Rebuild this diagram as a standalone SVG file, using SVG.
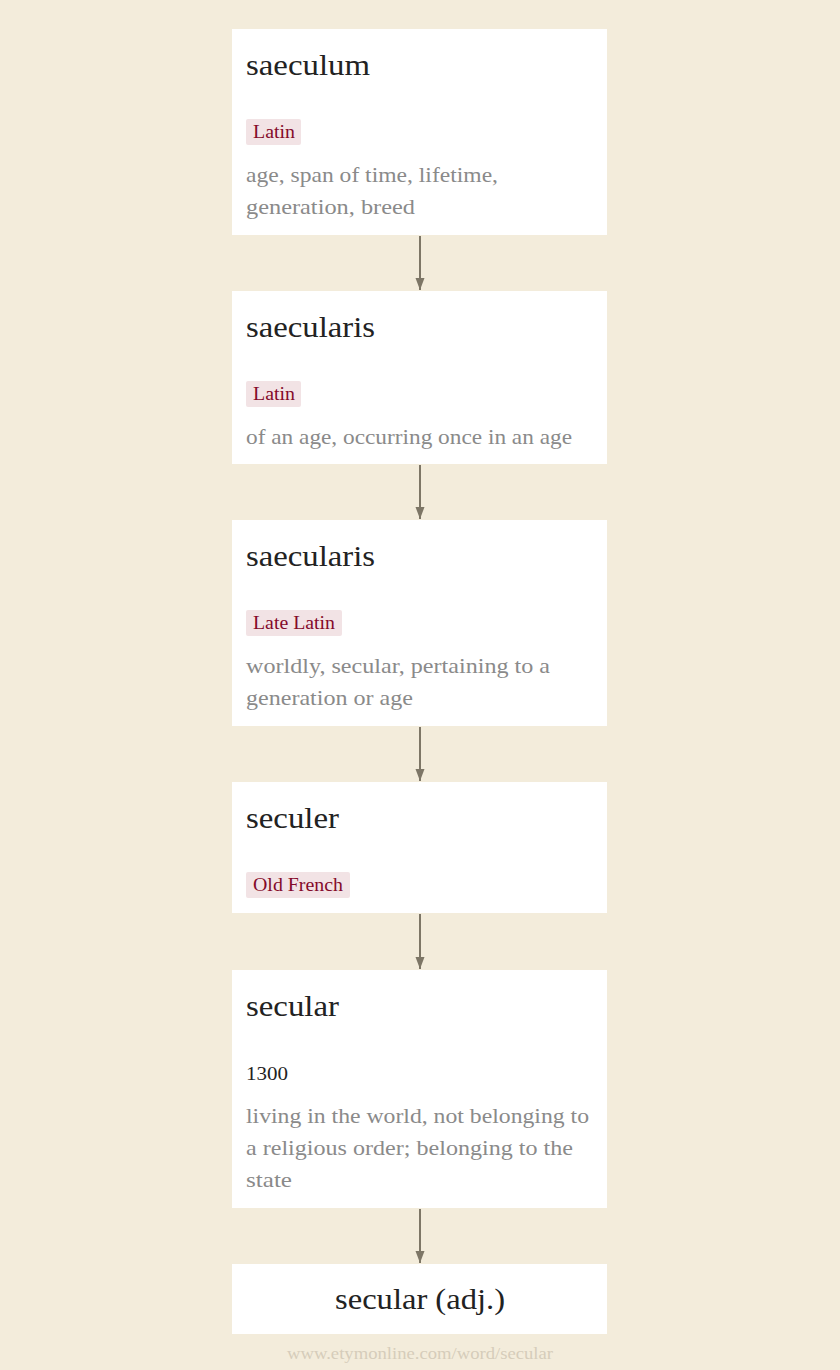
<svg xmlns="http://www.w3.org/2000/svg" width="840" height="1370" viewBox="0 0 840 1370">
<style>
.box{fill:#ffffff}
.title{font-family:"Liberation Serif","DejaVu Serif",serif;font-size:30px;fill:#222222}
.tagbg{fill:#f2e3e5}
.tag{font-family:"Liberation Serif","DejaVu Serif",serif;font-size:18px;fill:#840a2a}
.year{font-family:"Liberation Serif","DejaVu Serif",serif;font-size:18px;fill:#222222}
.desc{font-family:"Liberation Serif","DejaVu Serif",serif;font-size:21px;fill:#8a8a8a}
.foot{font-family:"Liberation Serif","DejaVu Serif",serif;font-size:16px;fill:#d6ccba}
.conn{stroke:#7d7666;stroke-width:2;fill:none}
</style>
<defs>
<marker id="ah" markerUnits="userSpaceOnUse" markerWidth="12" markerHeight="10" refX="12" refY="5" orient="auto" viewBox="0 0 12 10">
<path d="M0,0.5 L12,5 L0,9.5 Z" fill="#7d7666"/>
</marker>
</defs>
<rect width="840" height="1370" fill="#f3ecdb"/>

<g id="connectors">
<line class="conn" x1="420" y1="236" x2="420" y2="290" marker-end="url(#ah)"/>
<line class="conn" x1="420" y1="465" x2="420" y2="519" marker-end="url(#ah)"/>
<line class="conn" x1="420" y1="727" x2="420" y2="781" marker-end="url(#ah)"/>
<line class="conn" x1="420" y1="914" x2="420" y2="969" marker-end="url(#ah)"/>
<line class="conn" x1="420" y1="1209" x2="420" y2="1263" marker-end="url(#ah)"/>
</g>

<g id="node-saeculum">
<rect class="box" x="232" y="29" width="375" height="206"/>
<text class="title" x="246" y="75" textLength="124" lengthAdjust="spacingAndGlyphs">saeculum</text>
<rect class="tagbg" x="246" y="119" width="55" height="26" rx="2"/>
<text class="tag" x="253" y="138" textLength="42" lengthAdjust="spacingAndGlyphs">Latin</text>
<text class="desc" x="246" y="182" textLength="252" lengthAdjust="spacingAndGlyphs">age, span of time, lifetime,</text>
<text class="desc" x="246" y="214" textLength="169" lengthAdjust="spacingAndGlyphs">generation, breed</text>
</g>

<g id="node-saecularis-latin">
<rect class="box" x="232" y="291" width="375" height="173"/>
<text class="title" x="246" y="337" textLength="129" lengthAdjust="spacingAndGlyphs">saecularis</text>
<rect class="tagbg" x="246" y="381" width="55" height="26" rx="2"/>
<text class="tag" x="253" y="400" textLength="42" lengthAdjust="spacingAndGlyphs">Latin</text>
<text class="desc" x="246" y="444" textLength="326" lengthAdjust="spacingAndGlyphs">of an age, occurring once in an age</text>
</g>

<g id="node-saecularis-late-latin">
<rect class="box" x="232" y="520" width="375" height="206"/>
<text class="title" x="246" y="566" textLength="129" lengthAdjust="spacingAndGlyphs">saecularis</text>
<rect class="tagbg" x="246" y="610" width="96" height="26" rx="2"/>
<text class="tag" x="253" y="629" textLength="82" lengthAdjust="spacingAndGlyphs">Late Latin</text>
<text class="desc" x="246" y="673" textLength="304" lengthAdjust="spacingAndGlyphs">worldly, secular, pertaining to a</text>
<text class="desc" x="246" y="705" textLength="167" lengthAdjust="spacingAndGlyphs">generation or age</text>
</g>

<g id="node-seculer">
<rect class="box" x="232" y="782" width="375" height="131"/>
<text class="title" x="246" y="828" textLength="93" lengthAdjust="spacingAndGlyphs">seculer</text>
<rect class="tagbg" x="246" y="872" width="104" height="26" rx="2"/>
<text class="tag" x="253" y="891" textLength="90" lengthAdjust="spacingAndGlyphs">Old French</text>
</g>

<g id="node-secular-1300">
<rect class="box" x="232" y="970" width="375" height="238"/>
<text class="title" x="246" y="1016" textLength="93" lengthAdjust="spacingAndGlyphs">secular</text>
<text class="year" x="246" y="1080" textLength="42" lengthAdjust="spacingAndGlyphs">1300</text>
<text class="desc" x="246" y="1123" textLength="343" lengthAdjust="spacingAndGlyphs">living in the world, not belonging to</text>
<text class="desc" x="246" y="1155" textLength="327" lengthAdjust="spacingAndGlyphs">a religious order; belonging to the</text>
<text class="desc" x="246" y="1187" textLength="46" lengthAdjust="spacingAndGlyphs">state</text>
</g>

<g id="node-secular-adj">
<rect class="box" x="232" y="1264" width="375" height="70"/>
<text class="title" x="420" y="1309" text-anchor="middle" textLength="170" lengthAdjust="spacingAndGlyphs">secular (adj.)</text>
</g>

<text class="foot" x="420" y="1359" text-anchor="middle" textLength="266" lengthAdjust="spacingAndGlyphs">www.etymonline.com/word/secular</text>
</svg>
